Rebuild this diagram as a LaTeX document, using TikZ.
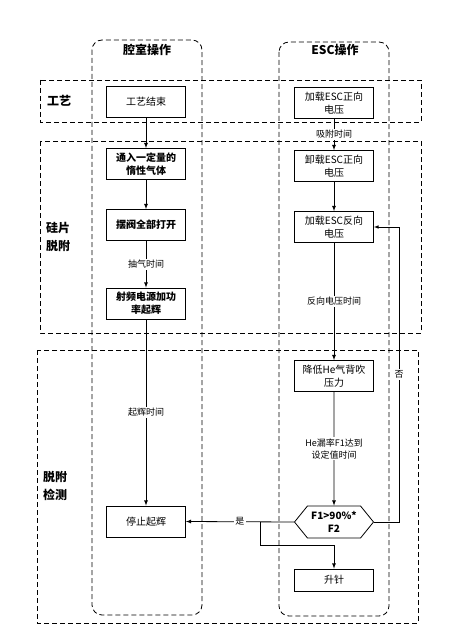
\documentclass[tikz,border=0pt]{standalone}
\usepackage{fontspec}
\setmainfont{Noto Sans CJK SC}
\usetikzlibrary{positioning,arrows,shapes.symbols}

\begin{document}
\begin{tikzpicture}[x=1pt,y=-1pt]
\tikzset{
    stepbox/.style={draw, thick, minimum width=79pt, minimum height=31pt,
                    align=center, inner sep=1pt, fill=white,
                    font=\fontsize{10}{13}\selectfont},
    lane/.style={draw, thick, dash pattern=on 5pt off 3pt, rounded corners=10pt},
    zone/.style={draw, thick, dash pattern=on 5pt off 3pt},
    head/.style={align=left, font=\fontsize{12}{18}\selectfont\bfseries},
    lbl/.style={fill=white, inner sep=1.5pt, align=center,
                font=\fontsize{9}{12}\selectfont},
    flow/.style={->, >=latex, thick}
}
\useasboundingbox (0,0) rectangle (474,631);

% zones
\draw [zone] (40,80) rectangle (421,122);
\draw [zone] (40,141) rectangle (421,333);
\draw [zone] (37,350) rectangle (418,623);
\node [head] (r1) at (59,101) {工艺};
\node [head] (r2) at (58,237) {硅片\\脱附};
\node [head] (r3) at (55,486) {脱附\\检测};

% lanes
\draw [lane] (92,40) rectangle (202,615);
\draw [lane] (279,42) rectangle (389,616);
\node [head] (c1) at (147,50) {腔室操作};
\node [head] (c2) at (335,50) {ESC操作};

% chamber steps
\node [stepbox] (end) at (146,102) {工艺结束};
\node [stepbox, font=\fontsize{10}{13}\selectfont\bfseries] (gas) at (146,164) {通入一定量的\\惰性气体};
\node [stepbox, font=\fontsize{10}{13}\selectfont\bfseries] (valve) at (146,225) {摆阀全部打开};
\node [stepbox, font=\fontsize{10}{13}\selectfont\bfseries] (rf) at (146,303.5) {射频电源加功\\率起辉};
\node [stepbox] (stop) at (146,521.5) {停止起辉};

% ESC steps
\node [stepbox] (load) at (334,103) {加载ESC正向\\电压};
\node [stepbox] (unload) at (334,166) {卸载ESC正向\\电压};
\node [stepbox] (rev) at (334,227) {加载ESC反向\\电压};
\node [stepbox] (he) at (334,376) {降低He气背吹\\压力};
\node [draw, thick, fill=white, signal, signal to=west and east,
       signal pointer angle=102, minimum width=79pt, minimum height=32pt,
       inner sep=1pt, align=center, font=\fontsize{10}{13}\selectfont\bfseries]
       (chk) at (334,522) {F1>90\%*\\F2};
\node [stepbox, minimum height=22pt] (pin) at (334,580) {升针};

\draw [flow] (end) -- (gas);
\draw [flow] (gas) -- (valve);
\draw [flow] (valve) -- node [lbl] {抽气时间} (rf);
\draw [flow] (rf) -- node [lbl] {起辉时间} (stop);

\draw [flow] (load) -- node [lbl] {吸附时间} (unload);
\draw [flow] (unload) -- (rev);
\draw [flow] (rev) -- node [lbl] {反向电压时间} (he);
\draw [flow] (he) -- node [lbl] {He漏率F1达到\\设定值时间} (chk);

\draw [flow] (chk.west) -- node [lbl] {是} (stop.east);
\coordinate (split) at (260,522);
\coordinate (bend) at (260,545);
\draw [flow] (split) -- (bend) -| (pin.north);
\draw [flow, semithick] (chk.east) -- ++(25,0) |- node [lbl, pos=0.25] {否} (rev.east);
\end{tikzpicture}
\end{document}
